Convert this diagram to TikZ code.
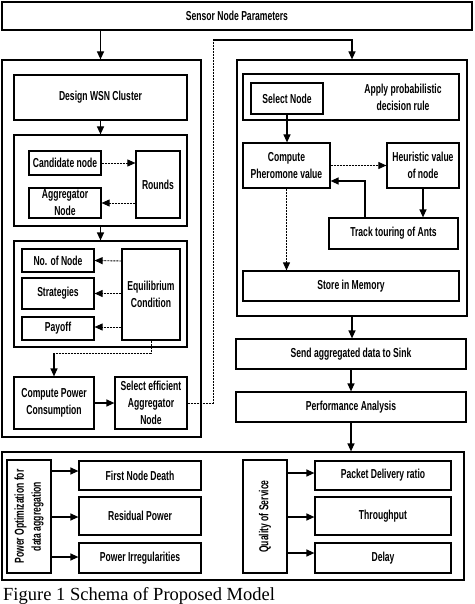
\documentclass[tikz,border=0pt]{standalone}
\usepackage{fontspec}
\usetikzlibrary{arrows.meta}
\newfontfamily\condfont[FakeStretch=0.66,BoldFont={Liberation Sans Bold},UprightFont={Liberation Sans Bold}]{Liberation Sans}
\newfontfamily\capfont{Liberation Serif}
\begin{document}
\begin{tikzpicture}[x=1pt,y=-1pt,
  box/.style={draw, line width=1.2pt, inner sep=0pt, align=center,
    font=\condfont\fontsize{13}{17}\selectfont},
  frame/.style={draw, line width=1.2pt, inner sep=0pt},
  arr/.style={-{Triangle[length=8pt,width=7pt]}, line width=1.2pt},
  dline/.style={line width=0.9pt, dash pattern=on 2pt off 1pt},
  darr/.style={-{Triangle[length=8pt,width=7pt]}, line width=0.9pt, dash pattern=on 2pt off 1pt},
  lbl/.style={align=center, inner sep=0pt, font=\condfont\fontsize{13}{17}\selectfont}]
\useasboundingbox (0,0) rectangle (474,604);
% top
\node[box, minimum width=470, minimum height=28] (top) at (237,16) {Sensor Node Parameters};
% left part
\node[frame, minimum width=199, minimum height=377] (lo) at (101.5,248.5) {};
\node[box, minimum width=173, minimum height=45] (design) at (100.5,97.5) {Design WSN Cluster};
\node[frame, minimum width=173, minimum height=91] (box2) at (100.5,180.5) {};
\node[box, minimum width=72, minimum height=24] (cand) at (65,163) {Candidate node};
\node[box, minimum width=44, minimum height=67] (rounds) at (158,184.5) {Rounds};
\node[box, minimum width=72, minimum height=30] (aggr) at (65,203) {Aggregator\\Node};
\node[frame, minimum width=173, minimum height=106] (box3) at (100.5,294) {};
\node[box, minimum width=72, minimum height=23] (nonode) at (58,260.5) {No. of Node};
\node[box, minimum width=72, minimum height=31] (strat) at (58,293.5) {Strategies};
\node[box, minimum width=72, minimum height=23] (payoff) at (58,328.5) {Payoff};
\node[box, minimum width=58, minimum height=91] (equil) at (151,294.5) {Equilibrium\\Condition};
\node[box, minimum width=80, minimum height=52] (cpc) at (54,403) {Compute Power\\Consumption};
\node[box, minimum width=72, minimum height=52] (sel) at (151,403) {Select efficient\\Aggregator\\Node};
% right part
\node[frame, minimum width=230, minimum height=256] (ro) at (352,188) {};
\node[frame, minimum width=216, minimum height=46] (apply) at (351,97) {};
\node[box, minimum width=72, minimum height=31] (selnode) at (287,98.5) {Select Node};
\node[lbl] (applytxt) at (403,97) {Apply probabilistic\\decision rule};
\node[box, minimum width=87, minimum height=45] (cpv) at (286.5,165.5) {Compute\\Pheromone value};
\node[box, minimum width=72, minimum height=45] (heur) at (423,165.5) {Heuristic value\\of node};
\node[box, minimum width=129, minimum height=31] (track) at (393.5,233.5) {Track touring of Ants};
\node[box, minimum width=216, minimum height=30] (store) at (351,286) {Store in Memory};
\node[box, minimum width=230, minimum height=30] (send) at (351,354) {Send aggregated data to Sink};
\node[box, minimum width=230, minimum height=30] (perf) at (351,407) {Performance Analysis};
% bottom
\node[frame, minimum width=462, minimum height=128] (bot) at (233,516) {};
\node[box, rotate=90, minimum width=113, minimum height=44] (powopt) at (29,516.5) {Power Optimization for\\data aggregation};
\node[box, minimum width=122, minimum height=29] (fnd) at (140,475.5) {First Node Death};
\node[box, minimum width=122, minimum height=38] (resid) at (140,516) {Residual Power};
\node[box, minimum width=122, minimum height=30] (pirr) at (140,558) {Power Irregularities};
\node[box, rotate=90, minimum width=113, minimum height=44] (qos) at (265,516.5) {Quality of Service};
\node[box, minimum width=136, minimum height=29] (pdr) at (383,475.5) {Packet Delivery ratio};
\node[box, minimum width=136, minimum height=38] (thr) at (383,516) {Throughput};
\node[box, minimum width=136, minimum height=30] (delay) at (383,558) {Delay};
% caption
\node[anchor=base west, inner sep=0pt, font=\capfont\fontsize{18.5}{20}\selectfont] (cap) at (3,600) {Figure 1 Schema of Proposed Model};
% connectors left
\draw[arr] (top.south -| design.north) -- (lo.north -| design.north);
\draw[arr] (design.south) -- (box2.north);
\draw[darr] (cand.east) -- (cand.east -| rounds.west);
\draw[darr] (aggr.east -| rounds.west) -- (aggr.east);
\draw[arr] (box2.south) -- (box3.north);
\draw[darr] (equil.west |- 0,261) -- (nonode.east);
\draw[darr] (equil.west |- strat.east) -- (strat.east);
\draw[darr] (equil.west |- 0,327) -- (payoff.east |- 0,327);
\coordinate (eqA) at (151,353);
\coordinate (eqB) at (54,353);
\draw[dline] (equil.south) -- (eqA) -- (eqB);
\draw[arr] (eqB) -- (cpc.north);
\draw[arr] (cpc.east) -- (sel.west);
\coordinate (upA) at (213,40);
\draw[dline] (sel.east) -| (upA);
\draw[arr] (upA) -| (ro.north);
% connectors right
\draw[arr] (selnode.south) -- (cpv.north -| selnode.south);
\draw[darr] (cpv.east) -- (heur.west);
\draw[arr] (heur.south) -- (heur.south |- track.north);
\coordinate (fb) at (365,181);
\draw[arr] (fb |- track.north) -- (fb) -- (fb -| cpv.east);
\draw[darr] (cpv.south) -- (cpv.south |- store.north);
\draw[arr] (ro.south) -- (ro.south |- send.north);
\draw[arr] (send.south) -- (perf.north);
\draw[arr] (perf.south) -- (perf.south |- bot.north);
% bottom connectors
\draw[arr] (powopt.south |- 0,471) -- (fnd.west |- 0,471);
\draw[arr] (powopt.south |- 0,517) -- (resid.west |- 0,517);
\draw[arr] (powopt.south |- 0,557) -- (pirr.west |- 0,557);
\draw[arr] (qos.south |- 0,473) -- (pdr.west |- 0,473);
\draw[arr] (qos.south |- 0,517) -- (thr.west |- 0,517);
\draw[arr] (qos.south |- 0,553) -- (delay.west |- 0,553);
\end{tikzpicture}
\end{document}
